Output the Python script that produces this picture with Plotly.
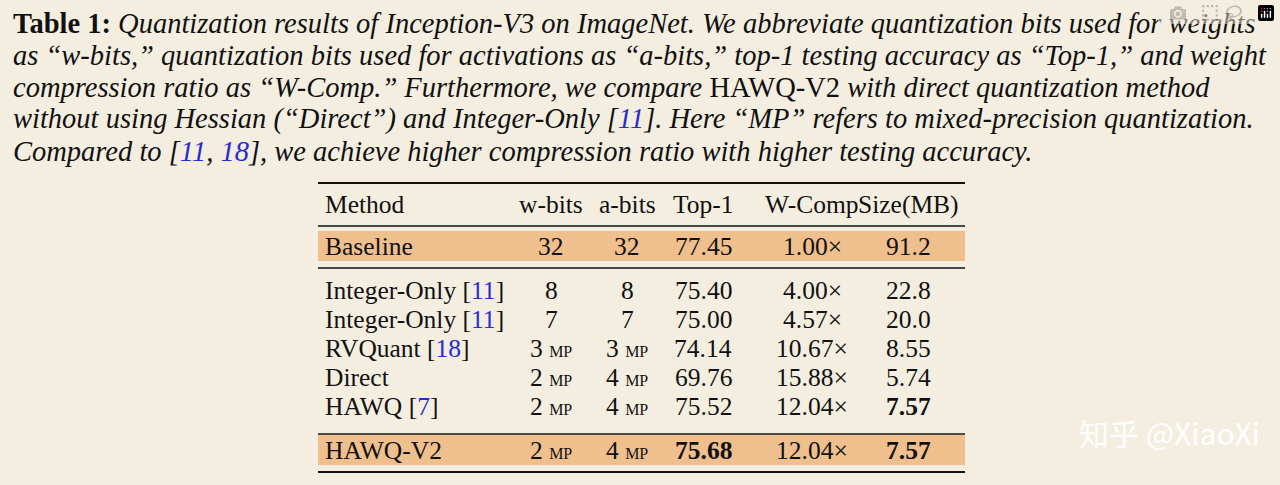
import plotly.graph_objects as go

BLUE = "#2a2acf"
MP = "<span style='font-size:16px'>MP</span>"

def cite(n):
    return f"[<span style='color:{BLUE}'>{n}</span>]"

caption = [
    "<b style='font-style:normal'>Table 1:</b> <i>Quantization results of Inception-V3 on ImageNet. We abbreviate quantization bits used for weights</i>",
    "<i>as “w-bits,” quantization bits used for activations as “a-bits,” top-1 testing accuracy as “Top-1,” and weight</i>",
    "<i>compression ratio as “W-Comp.” Furthermore, we compare</i> HAWQ-V2 <i>with direct quantization method</i>",
    f"<i>without using Hessian (“Direct”) and Integer-Only [<span style='color:{BLUE}'>11</span>]. Here “MP” refers to mixed-precision quantization.</i>",
    f"<i>Compared to [<span style='color:{BLUE}'>11</span>, <span style='color:{BLUE}'>18</span>], we achieve higher compression ratio with higher testing accuracy.</i>",
]

header = ["Method", "w-bits", "a-bits", "Top-1", "W-Comp", "Size(MB)"]
methods = ["Baseline", f"Integer-Only {cite(11)}", f"Integer-Only {cite(11)}",
           f"RVQuant {cite(18)}", "Direct", f"HAWQ {cite(7)}", "HAWQ-V2"]
w_bits = ["32", "8", "7", f"3 {MP}", f"2 {MP}", f"2 {MP}", f"2 {MP}"]
a_bits = ["32", "8", "7", f"3 {MP}", f"4 {MP}", f"4 {MP}", f"4 {MP}"]
top1 = ["77.45", "75.40", "75.00", "74.14", "69.76", "75.52", "<b>75.68</b>"]
w_comp = ["1.00×", "4.00×", "4.57×", "10.67×", "15.88×", "12.04×", "12.04×"]
size_mb = ["91.2", "22.8", "20.0", "8.55", "5.74", "<b>7.57</b>", "<b>7.57</b>"]
highlight = [True, False, False, False, False, False, True]

BG = "#f4eee0"
ORANGE = "#efbf8d"
FONT = "Liberation Serif"

row_y = [246, 290, 319, 348, 377, 406, 450]
col_x = [323, 551, 627, 703, 812, 908]

fig = go.Figure()
fig.add_trace(go.Scatter(x=[0, 1280], y=[0, 485], mode="markers",
                         marker=dict(opacity=0), hoverinfo="skip", showlegend=False))

ann = []
for i, line in enumerate(caption):
    ann.append(dict(x=11, y=23 + 32 * i, text=line, xanchor="left", showarrow=False,
                    font=dict(size=28.5, color="#111")))

for j, h in enumerate(header):
    ann.append(dict(x=col_x[j], y=204, text=h, xanchor="left" if j == 0 else "center",
                    showarrow=False, font=dict(size=25.5, color="#111")))

cols = [methods, w_bits, a_bits, top1, w_comp, size_mb]
for i, y in enumerate(row_y):
    for j, col in enumerate(cols):
        ann.append(dict(x=col_x[j], y=y, text=col[i], xanchor="left" if j == 0 else "center",
                        showarrow=False, font=dict(size=25.5, color="#111")))

shapes = []
for i, y in enumerate(row_y):
    if highlight[i]:
        shapes.append(dict(type="rect", x0=318, x1=965, y0=y - 15, y1=y + 15,
                           fillcolor=ORANGE, line=dict(width=0), layer="below"))
for y, w in [(183, 2.2), (226, 1.3), (268, 1.3), (434, 1.3), (472, 2.2)]:
    shapes.append(dict(type="line", x0=318, x1=965, y0=y, y1=y, line=dict(color="#111", width=w)))

ann.append(dict(x=1262, y=432, text="知乎 @XiaoXi", xanchor="right", showarrow=False,
                font=dict(size=30, color="white", family="Noto Sans CJK SC")))

fig.update_layout(
    width=1280, height=485, margin=dict(l=0, r=0, t=0, b=0),
    paper_bgcolor=BG, plot_bgcolor=BG,
    font=dict(family=FONT),
    xaxis=dict(range=[0, 1280], visible=False, fixedrange=True),
    yaxis=dict(range=[485, 0], visible=False, fixedrange=True),
    annotations=ann, shapes=shapes, showlegend=False,
)
fig.write_html("out.html", post_script="document.body.style.margin='0';document.body.style.overflow='hidden';")
